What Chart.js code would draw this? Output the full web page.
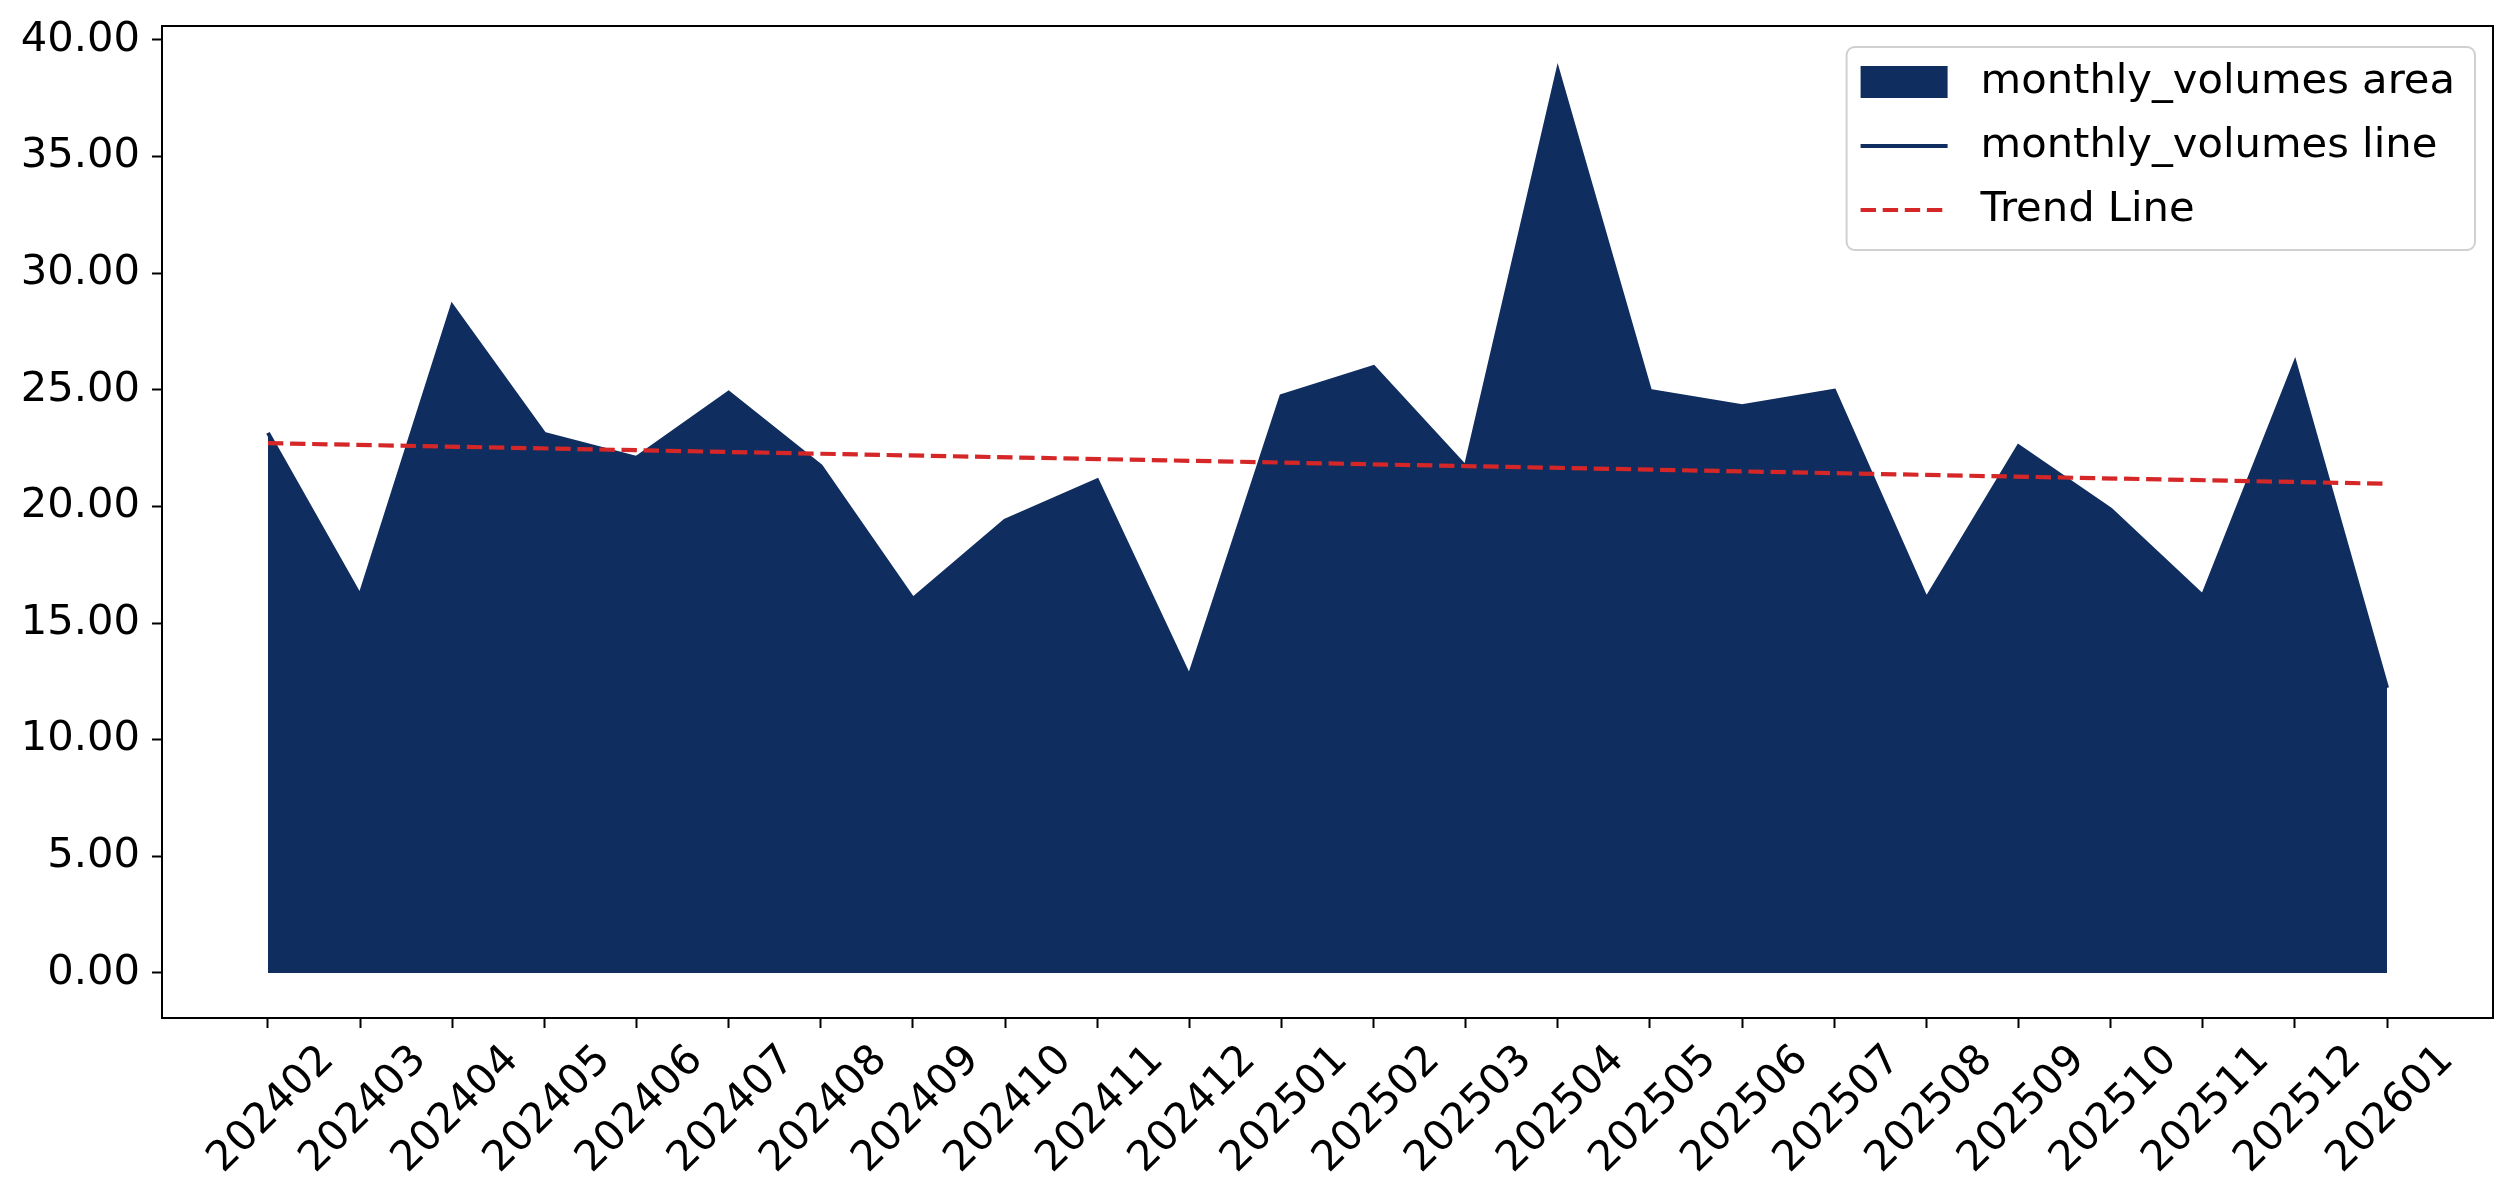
<!DOCTYPE html>
<html>
<head>
<meta charset="utf-8">
<script src="https://cdn.jsdelivr.net/npm/chart.js@4.4.1/dist/chart.umd.min.js"></script>
<style>
  html, body { margin: 0; padding: 0; background: #fff; }
  canvas { display: block; }
</style>
</head>
<body>
<canvas id="volumeChart" width="2516" height="1204"></canvas>
<script>
const months = ['202402', '202403', '202404', '202405', '202406', '202407', '202408', '202409',
    '202410', '202411', '202412', '202501', '202502', '202503', '202504', '202505', '202506',
    '202507', '202508', '202509', '202510', '202511', '202512', '202601'];
const monthlyVolumes = [23.15, 16.16, 28.58, 23.11, 22.08, 24.87, 21.73, 16.03,
    19.38, 21.11, 12.69, 24.73, 25.97, 21.68, 38.66, 24.95, 24.29,
    24.96, 16.03, 22.57, 19.86, 16.16, 26.14, 12.22];
// trend line values at the first and last month
const trendValues = [22.71, 20.97];
const yTicks = [0, 5, 10, 15, 20, 25, 30, 35, 40];
const legendLabels = ['monthly_volumes area', 'monthly_volumes line', 'Trend Line'];

const navy = '#0f2d5e';
const red = '#d62728';
const fontFamily = '"DejaVu Sans", sans-serif';
const fontSize = 41.67;
const dash = [15.4, 6.7];

Chart.defaults.font.family = fontFamily;
Chart.defaults.font.size = fontSize;
Chart.defaults.color = '#000';

// box round the plot area
const frame = {
    id: 'frame',
    afterDraw(chart) {
        const { ctx, chartArea } = chart;
        ctx.save();
        ctx.strokeStyle = '#000';
        ctx.lineWidth = 2;
        ctx.strokeRect(chartArea.left, chartArea.top,
            chartArea.right - chartArea.left, chartArea.bottom - chartArea.top);
        ctx.restore();
    }
};

// legend drawn inside the top-right corner, like matplotlib
const insideLegend = {
    id: 'insideLegend',
    afterDraw(chart) {
        const { ctx, chartArea } = chart;
        ctx.save();
        ctx.font = fontSize + 'px ' + fontFamily;
        const textW = Math.max(...legendLabels.map(l => ctx.measureText(l).width));
        const right = chartArea.right - 18;
        const top = chartArea.top + 21;
        const w = 14 + 87 + 33 + textW + 20;
        const h = 203;
        const left = right - w;

        ctx.beginPath();
        ctx.roundRect(left, top, w, h, 8);
        ctx.fillStyle = 'rgba(255,255,255,0.8)';
        ctx.fill();
        ctx.strokeStyle = '#d0d0d0';
        ctx.lineWidth = 2;
        ctx.stroke();

        const hx = left + 14;
        const rows = [top + 35, top + 99, top + 163];

        ctx.fillStyle = navy;
        ctx.fillRect(hx, rows[0] - 16, 87, 32);

        ctx.strokeStyle = navy;
        ctx.lineWidth = 4.2;
        ctx.beginPath();
        ctx.moveTo(hx, rows[1]);
        ctx.lineTo(hx + 87, rows[1]);
        ctx.stroke();

        ctx.strokeStyle = red;
        ctx.lineWidth = 4.2;
        ctx.setLineDash(dash);
        ctx.beginPath();
        ctx.moveTo(hx, rows[2]);
        ctx.lineTo(hx + 87, rows[2]);
        ctx.stroke();
        ctx.setLineDash([]);

        ctx.fillStyle = '#000';
        ctx.textBaseline = 'middle';
        ctx.textAlign = 'left';
        legendLabels.forEach((l, i) => ctx.fillText(l, hx + 87 + 33, rows[i]));
        ctx.restore();
    }
};

const ctx = document.getElementById('volumeChart').getContext('2d');
const chart = new Chart(ctx, {
    type: 'line',
    data: {
        datasets: [{
            label: 'monthly_volumes',
            data: monthlyVolumes.map((v, i) => ({ x: i, y: v })),
            borderColor: navy,
            backgroundColor: navy,
            borderWidth: 4,
            fill: 'origin',
            pointRadius: 0,
            tension: 0,
            order: 2
        }, {
            label: 'Trend Line',
            data: [{ x: 0, y: trendValues[0] }, { x: months.length - 1, y: trendValues[1] }],
            borderColor: red,
            borderWidth: 4.2,
            borderDash: dash,
            fill: false,
            pointRadius: 0,
            order: 1
        }]
    },
    options: {
        responsive: false,
        animation: false,
        devicePixelRatio: 1,
        layout: { padding: { top: 26, right: 23, left: 0, bottom: 0 } },
        plugins: {
            legend: { display: false },
            tooltip: { enabled: false }
        },
        scales: {
            x: {
                type: 'linear',
                min: -1.15,
                max: months.length - 1 + 1.15,
                afterBuildTicks: scale => { scale.ticks = months.map((m, i) => ({ value: i })); },
                afterFit: scale => {
                    scale.height = 186;
                    scale.paddingLeft = 0;
                    scale.paddingRight = 0;
                },
                grid: { drawOnChartArea: false, color: '#000', tickLength: 10, tickWidth: 2 },
                border: { color: '#000', width: 2 },
                ticks: {
                    autoSkip: false,
                    minRotation: 45,
                    maxRotation: 45,
                    padding: 8,
                    labelOffset: 60,
                    callback: v => months[v]
                }
            },
            y: {
                min: -1.93,
                max: 40.59,
                afterBuildTicks: scale => { scale.ticks = yTicks.map(v => ({ value: v })); },
                afterFit: scale => {
                    scale.width = 162;
                    scale.paddingTop = 0;
                    scale.paddingBottom = 0;
                },
                grid: { drawOnChartArea: false, color: '#000', tickLength: 10, tickWidth: 2 },
                border: { color: '#000', width: 2 },
                ticks: {
                    padding: 12,
                    callback: v => v.toFixed(2)
                }
            }
        }
    },
    plugins: [frame, insideLegend]
});
</script>
</body>
</html>
